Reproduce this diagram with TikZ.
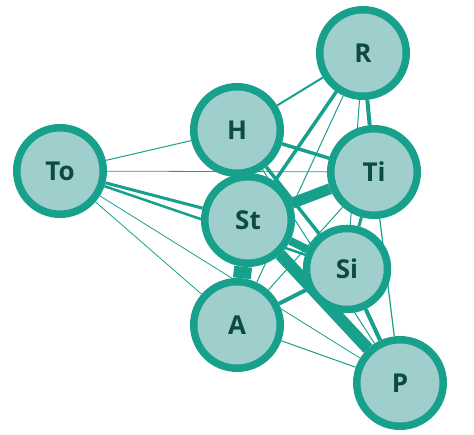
\documentclass[tikz,border=0pt]{standalone}
\usepackage{fontspec}
\setmainfont{Open Sans}
\usetikzlibrary{backgrounds}
\definecolor{ringteal}{HTML}{17A08B}
\definecolor{discfill}{HTML}{9FCFCC}
\definecolor{labelink}{HTML}{0C4A43}
\begin{document}
\begin{tikzpicture}[
    x=1pt, y=-1pt,
    topic/.style={circle, draw=ringteal, line width=7.5pt, fill=discfill, minimum size=86.5pt, inner sep=0pt,
                  text=labelink, font=\fontsize{26}{26}\selectfont\bfseries},
    link/.style={draw=ringteal, line width=#1},
    link/.default=1pt
]
\useasboundingbox (0,0) rectangle (474,434);

% --- Topics ---
\node[topic] (R)  at (363,53)  {R};
\node[topic] (H)  at (237,130) {H};
\node[topic] (To) at (60,171)  {To};
\node[topic] (Ti) at (374,172) {Ti};
\node[topic] (St) at (248,220) {St};
\node[topic, minimum size=81pt] (Si) at (347,269) {Si};
\node[topic] (A)  at (237,325) {A};
\node[topic] (P)  at (400,383) {P};

% --- Links (weights as line widths) ---
\begin{scope}[on background layer]
\draw[link=1pt]   (To) -- (H);
\draw[link=0.8pt] (To) -- (Ti);
\draw[link=3pt]   (To) -- (St);
\draw[link=2.5pt] (To) -- (Si);
\draw[link=0.8pt] (To) -- (P);
\draw[link=0.8pt] (To) -- (A);

\draw[link=2pt]   (H) -- (R);
\draw[link=3.5pt] (H) -- (Ti);
\draw[link=3.5pt] (H) -- (Si);
\draw[link=1pt]   (H) -- (P);

\draw[link=3.5pt] (R) -- (St);
\draw[link=1pt]   (R) -- (A);
\draw[link=1pt]   (R) -- (Si);
\draw[link=4pt]   (R) -- (Ti);

\draw[link=18pt]  (St) -- (A);
\draw[link=11pt]  (St) -- (Ti);
\draw[link=12pt]  (St) -- (P);
\draw[link=8pt]   (St) -- (Si);

\draw[link=3pt]   (Ti) -- (Si);
\draw[link=1pt]   (Ti) -- (A);
\draw[link=1.2pt] (Ti) -- (P);

\draw[link=4pt]   (Si) -- (P);
\draw[link=4pt]   (Si) -- (A);
\draw[link=1pt]   (A) -- (P);
\end{scope}
\end{tikzpicture}
\end{document}
